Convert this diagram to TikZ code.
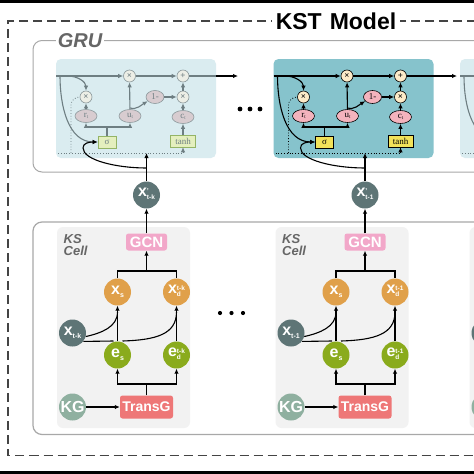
\documentclass[tikz,border=0pt]{standalone}
\usepackage{fontspec}
\setmainfont{Liberation Sans}
\newfontfamily\serifgate{Liberation Serif}
\usetikzlibrary{shapes.geometric,arrows.meta}
\definecolor{tealbg}{HTML}{86C3CC}
\definecolor{lightbg}{HTML}{DAECF0}
\definecolor{gatepink}{HTML}{F4B3BD}
\definecolor{mulcream}{HTML}{FDEBC8}
\definecolor{actyellow}{HTML}{F2E25A}
\definecolor{fgate}{HTML}{D8CCD0}
\definecolor{fmul}{HTML}{ECEEE6}
\definecolor{fact}{HTML}{E4EFBE}
\definecolor{factborder}{HTML}{94B466}
\definecolor{fline}{HTML}{6E7E82}
\definecolor{kspanel}{HTML}{F2F2F2}
\definecolor{gcnpink}{HTML}{F2A7C9}
\definecolor{transc}{HTML}{EE7777}
\definecolor{orangec}{HTML}{E0A04A}
\definecolor{greenc}{HTML}{8AAB1C}
\definecolor{slatec}{HTML}{5E7576}
\definecolor{kgc}{HTML}{8FB0A0}
\definecolor{boxborder}{HTML}{A8A8A8}
\definecolor{labelgray}{HTML}{666666}
\definecolor{outerc}{HTML}{444444}

\newcommand{\gatefont}{\serifgate\fontsize{9}{9}\selectfont}
\newcommand{\mulfont}{\serifgate\bfseries\fontsize{9}{9}\selectfont}
\newcommand{\GSub}[2]{#1\raisebox{-1.5pt}{\fontsize{5}{5}\selectfont #2}}
\newcommand{\CSub}[2]{#1\raisebox{-3pt}{\fontsize{7}{7}\selectfont #2}}
\newcommand{\CSubSup}[3]{#1{\fontsize{6.5}{6.5}\selectfont\begin{tabular}[c]{@{}l@{}}#3\\[0pt]#2\end{tabular}}}

\tikzset{
  >={Latex[length=5pt,width=4.5pt]},
  darkmode/.style={
    cellbg/.style={fill=tealbg},
    gate/.style={ellipse, draw=black, line width=0.6pt, fill=gatepink, minimum width=22pt, minimum height=13pt, inner sep=0pt, font=\gatefont, text=black},
    mul/.style={circle, draw=black, line width=0.6pt, fill=mulcream, minimum size=12pt, inner sep=0pt, font=\mulfont, text=black},
    act/.style={rectangle, draw=black, line width=0.6pt, fill=actyellow, minimum height=12pt, inner sep=1pt, font=\gatefont, text=black},
    ln/.style={draw=black, line width=1.1pt},
    dl/.style={draw=black, line width=0.8pt, dotted}},
  fadedmode/.style={
    cellbg/.style={fill=lightbg},
    gate/.style={ellipse, draw=fline!80, line width=0.6pt, fill=fgate, minimum width=22pt, minimum height=13pt, inner sep=0pt, font=\gatefont, text=fline},
    mul/.style={circle, draw=fline!80, line width=0.6pt, fill=fmul, minimum size=12pt, inner sep=0pt, font=\mulfont, text=fline},
    act/.style={rectangle, draw=factborder, line width=0.6pt, fill=fact, minimum height=12pt, inner sep=1pt, font=\gatefont, text=fline},
    ln/.style={draw=fline, line width=1.1pt},
    dl/.style={draw=fline, line width=0.8pt, dotted}},
  inl/.style={draw=black, line width=1.1pt},
  blk/.style={draw=black, line width=1.3pt},
  kl/.style={draw=black, line width=1.1pt},
  cnode/.style={circle, minimum size=27pt, inner sep=0pt, text=white, font=\bfseries\fontsize{16}{16}\selectfont},
  boxnode/.style={rectangle, rounded corners=2.5pt, inner sep=0pt, text=white, font=\bfseries\fontsize{14}{14}\selectfont},
  kslabel/.style={anchor=north west, align=left, inner sep=0pt, text=labelgray, font=\bfseries\itshape\fontsize{13}{12}\selectfont},
  outer/.style={draw=outerc, line width=1.5pt, dash pattern=on 9pt off 5pt}
}

\newcommand{\GRUcell}[4]{%
\begin{scope}[shift={(#1,0)},#3]
\fill[cellbg,rounded corners=5pt] (0,59) rectangle (160,158);
\node[mul] (#2-mt) at (73.5,76) {×};
\node[mul] (#2-pl) at (127,76) {+};
\node[mul] (#2-ml) at (30,97) {×};
\node[mul] (#2-mr) at (127,97) {×};
\node[gate] (#2-r) at (30,116) {\GSub{r}{t}};
\node[gate] (#2-u) at (74,116) {\GSub{u}{t}};
\node[gate,minimum width=18pt] (#2-om) at (99,97) {1-};
\node[gate] (#2-c) at (127,117) {\GSub{c}{t}};
\node[act,minimum width=18pt] (#2-sg) at (51,142) {σ};
\node[act,minimum width=25pt] (#2-th) at (127,141) {tanh};
\coordinate (#2-in) at (0,76);
\coordinate (#2-out) at (160,76);
\coordinate (#2-sj) at (51,127);
\coordinate (#2-inp) at (#4,153);
\coordinate (#2-hk) at (#4,168);
\draw[ln,->] (#2-in) -- (#2-mt);
\draw[ln,->] (#2-mt) -- (#2-pl);
\draw[ln] (#2-pl) -- (#2-out);
\draw[ln,->] (12,76) to[out=0,in=90] (#2-ml);
\draw[ln,->] (4,76) to[out=-90,in=180] (#2-sg);
\draw[ln,->] (#2-r) -- (#2-ml);
\draw[ln] (#2-sg) -- (#2-sj);
\draw[ln,->] (#2-sj) -| (#2-r);
\draw[ln,->] (#2-sj) -| (#2-u);
\draw[ln,->] (#2-u) -- (#2-mt);
\draw[ln,->] (74,108) to[out=-15,in=210] (#2-om);
\draw[ln,->] (#2-om) -- (#2-mr);
\draw[ln,->] (#2-mr) -- (#2-pl);
\draw[ln,->] (#2-c) -- (#2-mr);
\draw[ln,->] (#2-th) -- (#2-c);
\draw[dl] (2,153) -- (127,153);
\draw[dl,->] (127,153) -- (#2-th);
\draw[dl] (15,153) -- (15,105) to[out=90,in=180] (#2-ml);
\draw[inl,->] (#2-hk) .. controls (60,168) and (27,160) .. (27,148) .. controls (27,143) and (33,142) .. (#2-sg.west);
\end{scope}}

\newcommand{\KScell}[3]{%
\begin{scope}[shift={(#1,0)}]
\fill[kspanel,rounded corners=6pt] (-89.5,227) rectangle (43.5,428);
\node[kslabel] (#2-lab) at (-83,234) {KS\\Cell};
\node[cnode, fill=slatec] (#2-xp) at (0,195) {\CSubSup{x}{#3}{{\fontsize{7}{7}\selectfont'}}};
\node[boxnode, fill=gcnpink, minimum width=41pt, minimum height=17pt, font=\bfseries\fontsize{15}{15}\selectfont] (#2-gcn) at (0,242) {GCN};
\node[cnode, fill=orangec] (#2-xs) at (-29,292) {\CSub{x}{s}};
\node[cnode, fill=orangec] (#2-xd) at (30,292) {\CSubSup{x}{d}{#3}};
\node[cnode, fill=slatec] (#2-x) at (-74,333) {\CSub{x}{#3}};
\node[cnode, fill=greenc] (#2-es) at (-29,355) {\CSub{e}{s}};
\node[cnode, fill=greenc] (#2-ed) at (30,355) {\CSubSup{e}{d}{#3}};
\node[cnode, fill=kgc] (#2-kg) at (-74,407) {KG};
\node[boxnode, fill=transc, minimum width=53pt, minimum height=23pt] (#2-tg) at (0,407) {TransG};
\coordinate (#2-j1) at (0,271);
\coordinate (#2-j2) at (0,384);
\draw[kl] (#2-xs.north) |- (#2-j1) -| (#2-xd.north);
\draw[kl,->] (#2-j1) -- (#2-gcn);
\draw[kl,->] (#2-gcn) -- (#2-xp);
\draw[inl,->] (#2-xp) -- (#2-inp);
\draw[kl,->] (#2-es) -- (#2-xs);
\draw[kl,->] (#2-ed) -- (#2-xd);
\draw[kl,->] (#2-kg) -- (#2-tg);
\draw[kl] (#2-tg) -- (#2-j2);
\draw[kl,->] (#2-j2) -| (#2-es);
\draw[kl,->] (#2-j2) -| (#2-ed);
\draw[kl] (#2-x.-15) .. controls (-45,333) and (-29,327) .. (-29,312);
\draw[kl] (#2-x.-38) -- (-33,341);
\draw[kl] (-24,341) .. controls (10,340) and (30,334) .. (30,312);
\end{scope}}

\begin{document}
\begin{tikzpicture}[x=1pt,y=-1pt]
\useasboundingbox (0,0) rectangle (474,474);
\clip (0,0) rectangle (474,474);
\fill[white] (0,0) rectangle (474,474);
\fill[black] (0,0) rectangle (474,2.7);
\fill[black] (0,471) rectangle (474,474);
% outer dashed frame
\draw[outer] (490,21) -- (8,21) -- (8,455.5) -- (490,455.5);
\node[fill=white, inner xsep=4pt, inner ysep=1pt, font=\bfseries\fontsize{23}{23}\selectfont] (title) at (336,21) {KST\hspace{8pt}Model};
% GRU box
\draw[boxborder, line width=1pt, rounded corners=9pt] (33,40.5) rectangle (500,172);
\node[fill=white, inner xsep=1.5pt, inner ysep=0pt, text=labelgray, font=\bfseries\itshape\fontsize{20}{20}\selectfont] (grulab) at (80,41) {GRU};
% KS box
\draw[boxborder, line width=1.2pt, rounded corners=9pt] (33,222) rectangle (500,434.5);
% GRU cells
\GRUcell{56}{a}{fadedmode}{90.5}
\GRUcell{273.5}{b}{darkmode}{91.5}
% third GRU cell, cut by the picture's edge
\begin{scope}[shift={(460,0)},fadedmode]
\fill[cellbg,rounded corners=5pt] (0,59) rectangle (160,158);
\coordinate (c-in) at (0,76);
\coordinate (c-end) at (30,76);
\coordinate (c-sg) at (42,142);
\draw[ln] (c-in) -- (c-end);
\draw[ln] (4,76) to[out=-90,in=180] (c-sg);
\draw[dl] (2,153) -- (40,153);
\end{scope}
\coordinate (a-nx) at (238,76);
\coordinate (b-nx) at (457,76);
\draw[blk,->] (a-out) -- (a-nx);
\draw[blk,->] (b-out) -- (b-nx);
\foreach \i in {240,250,260} \fill[black] (\i,109) circle (2.4pt);
% KS cells
\KScell{146.5}{a}{t-k}
\KScell{365}{b}{t-1}
% third KS cell, cut by the picture's edge
\fill[kspanel,rounded corners=6pt] (469.5,227) rectangle (560,428);
\node[cnode, fill=slatec] (c-x) at (485,333) {};
\node[cnode, fill=kgc] (c-kg) at (485,407) {};
\foreach \i in {220,231.5,243} \fill[black] (\i,313) circle (2.1pt);
\end{tikzpicture}
\end{document}
